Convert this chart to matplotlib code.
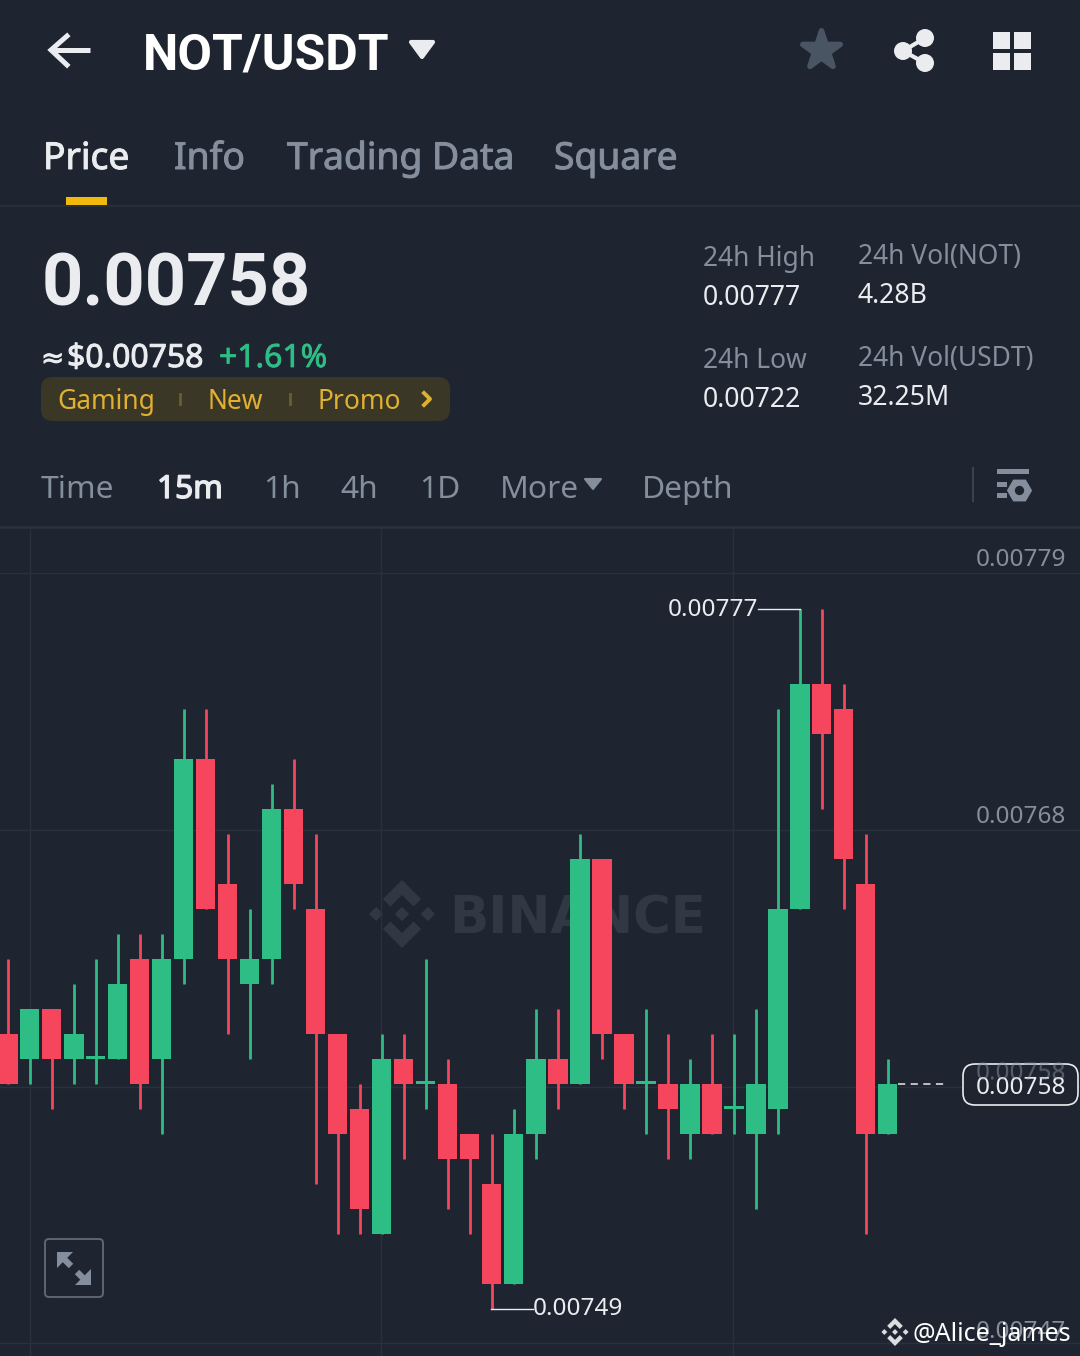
import numpy as np
import matplotlib
matplotlib.use("Agg")
import matplotlib.pyplot as plt
import matplotlib.patheffects as pe
from matplotlib.patches import FancyBboxPatch, Polygon, Rectangle, Circle

plt.rcParams['font.family'] = ['Noto Sans', 'DejaVu Sans']

# candle values, in 1e-5 USDT
opens = [760, 759, 761, 759, 759, 759, 763, 759, 763, 771, 766, 762, 763, 769, 765, 760, 757, 752, 759, 758,
         758, 756, 754, 750, 756, 759, 758, 767, 760, 758, 758, 756, 758, 757, 756, 757, 765, 774, 773, 766, 756]
closes = [758, 761, 759, 760, 759.1, 762, 758, 763, 771, 765, 763, 763, 769, 766, 760, 756, 753, 759, 758, 758.1,
          755, 755, 750, 756, 759, 758, 767, 760, 758, 758.1, 757, 758, 756, 757.1, 758, 765, 774, 772, 767, 756, 758]
highs = [763, 761, 761, 762, 763, 764, 764, 764, 773, 773, 768, 765, 770, 771, 768, 760, 758, 760, 760, 763,
         759, 756, 756, 757, 761, 761, 768, 767, 760, 761, 760, 759, 760, 760, 761, 773, 777, 777, 774, 768, 759]
lows = [758, 758, 757, 758, 758, 759, 757, 756, 762, 765, 760, 759, 762, 765, 754, 752, 752, 752, 755, 757,
        753, 752, 749, 750, 755, 757, 758, 759, 757, 756, 755, 755, 756, 756, 753, 756, 765, 769, 765, 752, 756]

price_ticks = [778.44, 768.16, 757.88, 747.64]
price_labels = ['0.00779', '0.00768', '0.00758', '0.00747']
time_grid = [1, 16.95, 32.95]

main_tabs = [('Price', 43), ('Info', 174), ('Trading Data', 287), ('Square', 554)]
tags = [('Gaming', 57), ('New', 207), ('Promo', 317)]
intervals = [('Time', 41), ('15m', 157), ('1h', 263), ('4h', 340), ('1D', 419), ('More', 500), ('Depth', 642)]
stats = [('24h High', '0.00777', 703, 266, 305), ('24h Vol(NOT)', '4.28B', 858, 264, 303),
         ('24h Low', '0.00722', 703, 368, 407), ('24h Vol(USDT)', '32.25M', 858, 366, 405)]

BG = '#1E2530'
GREEN = '#2EBD85'
RED = '#F6465D'
GREY = '#848E9C'
WHITE = '#EAECEF'
GOLD = '#E0B030'
LINE = '#2A313C'

W, H = 1080, 1356
fig = plt.figure(figsize=(W / 100, H / 100), dpi=100, facecolor=BG)

# chart area, y pixel 528..1356 and 25 px per 1e-5
top, bottom = 528, 1356
ax = fig.add_axes([0, 0, 1, (bottom - top) / H])
ax.set_facecolor(BG)
ax.set_xlim(-7.7 / 22, (W - 7.7) / 22)
ax.set_ylim(777 - (bottom - 609) / 25, 777 + (609 - top) / 25)
ax.axis('off')

for p in price_ticks:
    ax.axhline(p, color=LINE, lw=1, zorder=1)
for t in time_grid:
    ax.axvline(t, color=LINE, lw=1, zorder=1)

xs = np.arange(len(opens))
opens_a, closes_a = np.array(opens), np.array(closes)
up = closes_a > opens_a
colors = np.where(up, GREEN, RED)
ax.vlines(xs, lows, highs, colors=colors, lw=2, zorder=3)
ax.bar(xs, np.abs(closes_a - opens_a), bottom=np.minimum(opens_a, closes_a), width=19.6 / 22, color=colors, zorder=4)

# overlay in pixel coordinates for the app chrome
ui = fig.add_axes([0, 0, 1, 1])
ui.set_xlim(0, W)
ui.set_ylim(H, 0)
ui.axis('off')
ui.patch.set_alpha(0)


def txt(x, y, s, size, color=WHITE, stroke=0, ha='left', **kw):
    t = ui.text(x, y, s, fontsize=size, color=color, ha=ha, va='baseline', **kw)
    if stroke:
        # the installed Noto Sans only has a regular weight here
        t.set_path_effects([pe.withStroke(linewidth=stroke, foreground=color)])
    return t


def logo(target, cx, cy, r, color, zorder=2):
    top_c = [(0, -1), (.56, -.44), (.34, -.22), (0, -.56), (-.34, -.22), (-.56, -.44)]
    parts = [top_c, [(a, -b) for a, b in top_c]]
    for dx in [0, -.76, .76]:
        parts.append([(dx, -.21), (dx + .21, 0), (dx, .21), (dx - .21, 0)])
    for part in parts:
        target.add_patch(Polygon([(cx + a * r, cy + b * r) for a, b in part], color=color, lw=0, zorder=zorder))


# header
ui.plot([90, 53], [50, 50], color=WHITE, lw=3.6, solid_capstyle='butt')
ui.plot([67, 51, 67], [36, 50, 65], color=WHITE, lw=3.6, solid_joinstyle='miter')
txt(143, 70, 'NOT/USDT', 36, color='white', family='Roboto', fontweight='bold')
ui.add_patch(Polygon([(411, 42), (433, 42), (422, 57)], facecolor=WHITE, edgecolor=WHITE, lw=3, joinstyle='round'))
ui.scatter([821], [50], marker='*', s=800, facecolor='#4A5564', edgecolor='#4A5564', lw=4, joinstyle='round')
for cx, cy in [(925, 38), (903, 51), (925, 63)]:
    ui.add_patch(Circle((cx, cy), 9, color=WHITE, lw=0))
ui.plot([925, 903, 925], [38, 51, 63], color=WHITE, lw=3)
for cx, cy in [(993, 32), (1014, 32), (993, 53), (1014, 53)]:
    ui.add_patch(Rectangle((cx, cy), 16.5, 16.5, color=WHITE, lw=0))

# tabs
for i, (name, x) in enumerate(main_tabs):
    txt(x, 169, name, 26.8, color=WHITE if i == 0 else GREY, stroke=0.7)
ui.add_patch(Rectangle((66, 197), 41, 8, color='#F0B90B', lw=0, zorder=3))
ui.plot([0, W], [206, 206], color=LINE, lw=1.2)

# price block
txt(42, 305, '0.00758', 52, color=WHITE, family='Roboto', fontweight='bold')
txt(41, 367, '≈', 20, color=WHITE, stroke=0.6)
txt(67, 367, '$0.00758', 23, color=WHITE, stroke=0.7)
txt(219, 367, '+1.61%', 23, color=GREEN, stroke=0.6)
ui.add_patch(FancyBboxPatch((51, 387), 389, 24, boxstyle='round,pad=10,rounding_size=12', color='#3B3727', lw=0))
for name, x in tags:
    txt(x, 409, name, 19, color=GOLD)
for x in [180, 290]:
    ui.plot([x, x], [394, 404], color='#6B5E2E', lw=2)
ui.plot([424, 430, 424], [393, 399, 405], color=GOLD, lw=2.8)
for label, value, x, y1, y2 in stats:
    txt(x, y1, label, 19, color=GREY)
    txt(x, y2, value, 19.2, color=WHITE)

# interval bar
for name, x in intervals:
    if name == '15m':
        txt(x, 498, name, 22.8, color=WHITE, stroke=1)
    else:
        txt(x, 498, name, 22.8, color=GREY)
ui.add_patch(Polygon([(585, 479), (601, 479), (593, 489)], facecolor=GREY, edgecolor=GREY, lw=1.5, joinstyle='round'))
ui.plot([973, 973], [468, 501], color='#3A424E', lw=1.5)
ui.add_patch(Rectangle((997, 469), 32, 5, color=GREY, lw=0))
for y in [482, 493]:
    ui.add_patch(Rectangle((997, y), 10, 5, color=GREY, lw=0))
ui.scatter([1019], [490], marker='H', s=330, color=GREY, lw=0)
ui.scatter([1019], [490], marker='o', s=45, color=BG, lw=0)
ui.plot([0, W], [527, 527], color=LINE, lw=2)

# watermark
logo(ui, 402, 914, 34, '#323843')
txt(449, 933, 'BINANCE', 37, color='#323843', family='DejaVu Sans', fontweight='bold', zorder=2)
ax.set_zorder(ui.get_zorder() + 1)
ax.patch.set_alpha(0)
ui.set_zorder(0)

# second overlay above the candles
fg = fig.add_axes([0, 0, 1, 1], zorder=5)
fg.set_xlim(0, W)
fg.set_ylim(H, 0)
fg.axis('off')
fg.patch.set_alpha(0)

# price axis labels
for label, y in zip(price_labels, [566, 823, 1080, 1338]):
    alpha = 0.35 if label == '0.00758' else 1
    fg.text(1066, y, label, fontsize=17.5, color=GREY, ha='right', va='baseline', alpha=alpha)

# high and low callouts
fg.plot([758, 800], [609, 609], color=WHITE, lw=1)
fg.text(758, 616, '0.00777', fontsize=17.5, color=WHITE, ha='right', va='baseline')
fg.plot([491, 533], [1309, 1309], color=WHITE, lw=1)
fg.text(533, 1315, '0.00749', fontsize=17.5, color=WHITE, ha='left', va='baseline')

# last price tag
fg.plot([898, 948], [1084, 1084], color='#C8CCD2', lw=1.3, ls=(0, (4, 3)))
fg.add_patch(FancyBboxPatch((974, 1075), 93, 19, boxstyle='round,pad=11,rounding_size=12',
                            facecolor=BG, edgecolor=WHITE, lw=1.2))
fg.text(1066, 1094, '0.00758', fontsize=17.5, color=WHITE, ha='right', va='baseline')
fg.text(1066, 1079, '0.00758', fontsize=17.5, color=GREY, ha='right', va='baseline', alpha=0.3)

# fullscreen button
fg.add_patch(FancyBboxPatch((48, 1242), 52, 52, boxstyle='round,pad=3,rounding_size=4',
                            facecolor='none', edgecolor='#5E6673', lw=1.4))
fg.plot([60, 71], [1255, 1266], color=GREY, lw=4.5, solid_capstyle='butt')
fg.plot([77, 88], [1272, 1283], color=GREY, lw=4.5, solid_capstyle='butt')
fg.add_patch(Polygon([(57, 1252), (73, 1252), (57, 1268)], color=GREY, lw=0))
fg.add_patch(Polygon([(91, 1285), (75, 1285), (91, 1269)], color=GREY, lw=0))

# repost credit
logo(fg, 895, 1332, 14, '#DADDE1')
fg.text(912, 1341, '@Alice_james', fontsize=18, color='white', ha='left', va='baseline')

fig.savefig('out.png', dpi=100, facecolor=BG)
